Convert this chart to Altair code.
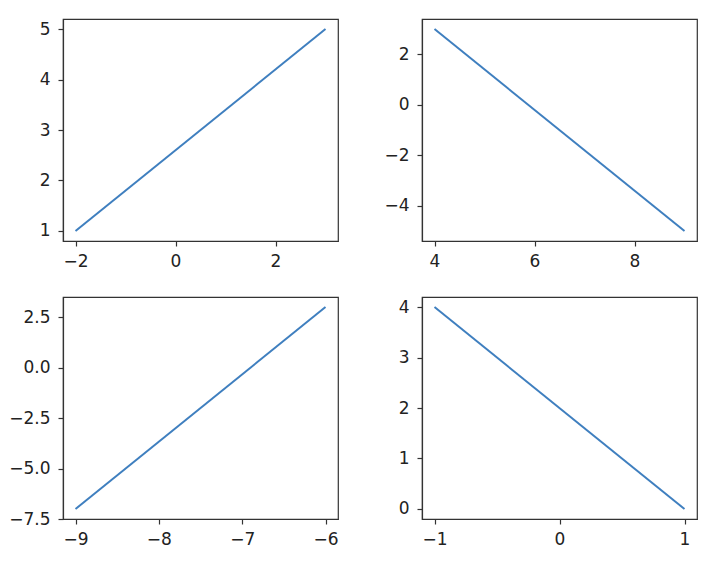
import altair as alt
import pandas as pd

# Data for the four panels (line endpoints)
x1 = [-2, 3]
y1 = [1, 5]
x2 = [4, 9]
y2 = [3, -5]
x3 = [-9, -6]
y3 = [-7, 3]
x4 = [-1, 1]
y4 = [4, 0]

# Axis ticks
xt1 = [-2, 0, 2]
yt1 = [1, 2, 3, 4, 5]
xt2 = [4, 6, 8]
yt2 = [-4, -2, 0, 2]
xt3 = [-9, -8, -7, -6]
yt3 = [-7.5, -5.0, -2.5, 0.0, 2.5]
xt4 = [-1, 0, 1]
yt4 = [0, 1, 2, 3, 4]

LINE = "#3f7fbf"
W, H = 275, 222


def pad_domain(vals):
    lo, hi = min(vals), max(vals)
    m = (hi - lo) * 0.05
    return [lo - m, hi + m]


def panel(xs, ys, xt, yt, yfmt="d"):
    df = pd.DataFrame({"x": xs, "y": ys})
    return alt.Chart(df).mark_line(color=LINE, strokeWidth=2).encode(
        x=alt.X("x:Q", scale=alt.Scale(domain=pad_domain(xs), nice=False, zero=False),
                axis=alt.Axis(values=xt, format="d", title=None)),
        y=alt.Y("y:Q", scale=alt.Scale(domain=pad_domain(ys), nice=False, zero=False),
                axis=alt.Axis(values=yt, format=yfmt, title=None)),
    ).properties(width=W, height=H)


chart = alt.concat(
    panel(x1, y1, xt1, yt1),
    panel(x2, y2, xt2, yt2),
    panel(x3, y3, xt3, yt3, ".1f"),
    panel(x4, y4, xt4, yt4),
    columns=2,
    spacing={"row": 26, "column": 33},
).properties(
    padding={"left": 0, "top": 10, "right": 5, "bottom": 5}
).configure_view(
    stroke="#333333", strokeWidth=1.2
).configure_axis(
    grid=False,
    domainColor="#333333",
    domainWidth=1.2,
    tickColor="#333333",
    tickWidth=1.2,
    tickSize=5,
    labelFont="DejaVu Sans",
    labelFontSize=17,
    labelColor="#222222",
).configure_axisY(
    minExtent=49, maxExtent=49, labelPadding=8
).configure_axisX(
    minExtent=22, maxExtent=22, labelPadding=7
)

chart.save("out.html", embed_options={"renderer": "svg", "actions": False})
